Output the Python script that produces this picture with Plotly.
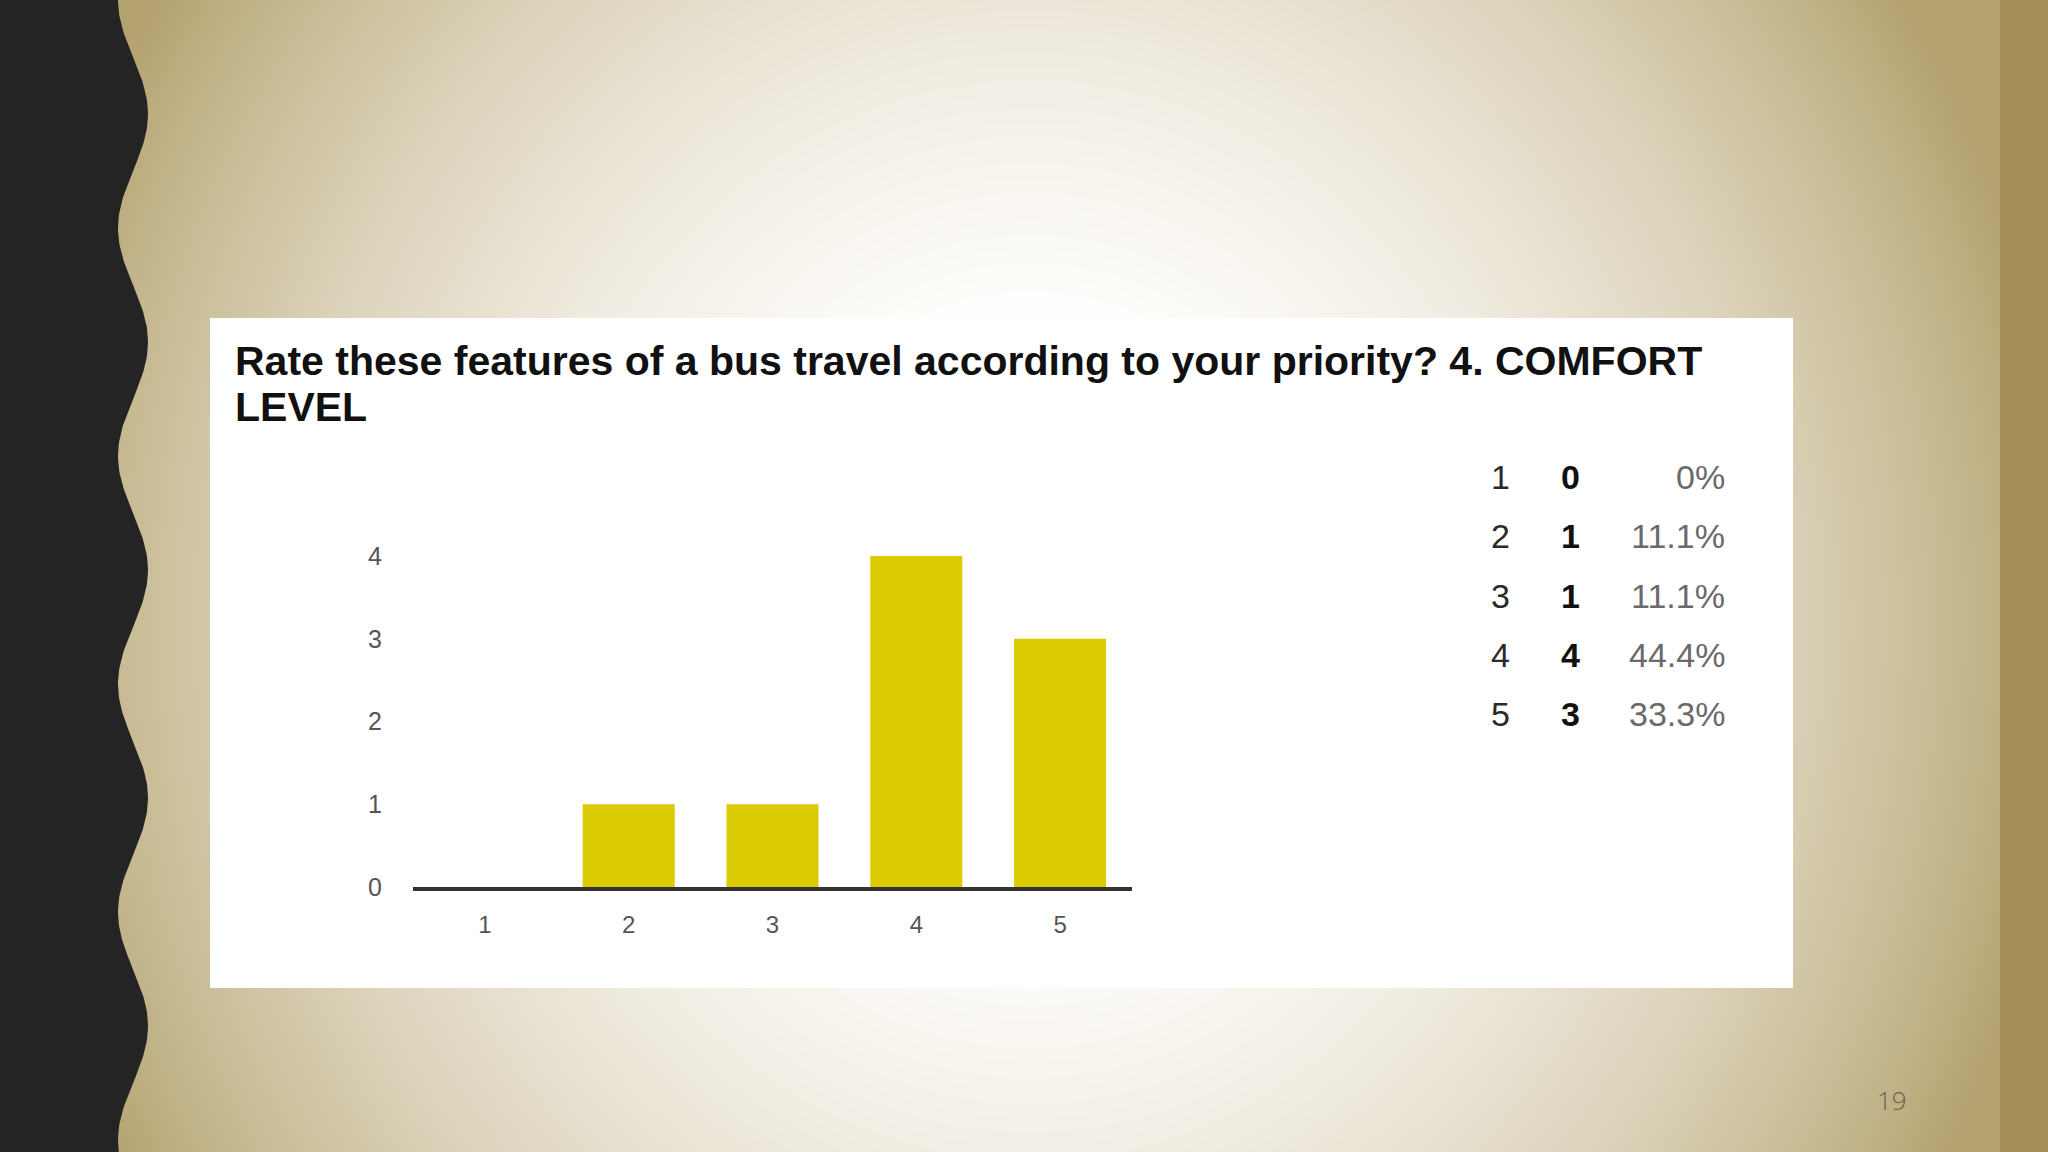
import numpy as np
import plotly.graph_objects as go

# ---- data ----
categories = [1, 2, 3, 4, 5]
counts = [0, 1, 1, 4, 3]
percent_labels = ["0%", "11.1%", "11.1%", "44.4%", "33.3%"]
y_ticks = [0, 1, 2, 3, 4]
title_line1 = "Rate these features of a bus travel according to your priority? 4. COMFORT"
title_line2 = "LEVEL"
page_number = "19"

W, H = 2048, 1152
FONT = "Arial, Liberation Sans, sans-serif"
fig = go.Figure()

# ---- slide background (decoration) ----
gx = np.linspace(0, W, 129)
gy = np.linspace(0, H, 73)
X, Y = np.meshgrid(gx, gy)
cx, cy, rx, ry = 1030, 620, 1050, 1150
t = np.clip(np.sqrt(((X - cx) / rx) ** 2 + ((Y - cy) / ry) ** 2), 0, 1)
fig.add_trace(go.Heatmap(
    x=gx, y=gy, z=t, zmin=0, zmax=1, zsmooth="best", showscale=False, hoverinfo="skip",
    colorscale=[[0, "#ffffff"], [0.28, "#fefdfb"], [0.5, "#f0ebe0"], [0.7, "#ddd4bd"],
                [0.88, "#c6b991"], [1, "#b3a16e"]],
    xaxis="x", yaxis="y"))

# dark wavy band on the left
wy = np.linspace(0, H, 400)
wx = 133 + 15 * np.cos(2 * np.pi * (wy - 114) / 228)
bx = [0] + list(wx) + [0]
by = [0] + list(wy) + [H]
fig.add_trace(go.Scatter(x=bx, y=by, fill="toself", fillcolor="#252424", mode="lines",
                         line=dict(width=0), hoverinfo="skip", showlegend=False,
                         xaxis="x", yaxis="y"))
# right band
fig.add_trace(go.Scatter(x=[2000, W, W, 2000, 2000], y=[0, 0, H, H, 0], fill="toself",
                         fillcolor="#a38e56", mode="lines", line=dict(width=0),
                         hoverinfo="skip", showlegend=False, xaxis="x", yaxis="y"))
# white panel
fig.add_trace(go.Scatter(x=[210, 1793, 1793, 210, 210], y=[318, 318, 988, 988, 318],
                         fill="toself", fillcolor="#ffffff", mode="lines", line=dict(width=0),
                         hoverinfo="skip", showlegend=False, xaxis="x", yaxis="y"))

# ---- bar chart ----
fig.add_trace(go.Bar(x=categories, y=counts, marker=dict(color="#dbcb02", line=dict(width=0)),
                     width=0.64, xaxis="x2", yaxis="y2", showlegend=False))

annotations = [
    dict(x=233, y=361, xref="x", yref="y", text=title_line1, showarrow=False,
         xanchor="left", yanchor="middle",
         font=dict(family=FONT, size=41, color="#111111", weight="bold")),
    dict(x=233, y=407, xref="x", yref="y", text=title_line2, showarrow=False,
         xanchor="left", yanchor="middle",
         font=dict(family=FONT, size=41, color="#111111", weight="bold")),
    dict(x=1892, y=1100, xref="x", yref="y", text=page_number, showarrow=False,
         font=dict(family="Open Sans, sans-serif", size=26, color="#6b6250", weight=300)),
]
row0, row_step = 477, 59.3
for i, (c, n, p) in enumerate(zip(categories, counts, percent_labels)):
    yy = row0 + i * row_step
    annotations.append(dict(x=1500, y=yy, xref="x", yref="y", text=str(c), showarrow=False,
                            xanchor="center", yanchor="middle",
                            font=dict(family=FONT, size=34, color="#2a2a2a")))
    annotations.append(dict(x=1570, y=yy, xref="x", yref="y", text=str(n), showarrow=False,
                            xanchor="center", yanchor="middle",
                            font=dict(family=FONT, size=34, color="#111111", weight="bold")))
    annotations.append(dict(x=1727, y=yy, xref="x", yref="y", text=p, showarrow=False,
                            xanchor="right", yanchor="middle",
                            font=dict(family=FONT, size=34, color="#6a6a6a")))

x0, x1 = 413 / W, 1132 / W
ybot = 887
ytop = ybot - 4.5 * 82.75
fig.update_layout(
    width=W, height=H, autosize=False,
    margin=dict(l=0, r=0, t=0, b=0, pad=0, autoexpand=False),
    paper_bgcolor="#b5a371", plot_bgcolor="rgba(0,0,0,0)",
    showlegend=False,
    xaxis=dict(domain=[0, 1], range=[0, W], visible=False, fixedrange=True),
    yaxis=dict(domain=[0, 1], range=[H, 0], visible=False, fixedrange=True),
    xaxis2=dict(domain=[x0, x1], anchor="y2", range=[0.5, 5.5], tickvals=categories,
                showline=True, linecolor="#333333", linewidth=4, showgrid=False,
                zeroline=False, ticks="", ticklabelstandoff=13, automargin=False,
                tickfont=dict(family=FONT, size=24, color="#555555")),
    yaxis2=dict(domain=[1 - ybot / H, 1 - ytop / H], anchor="x2", range=[0, 4.5],
                tickvals=y_ticks, showgrid=False, zeroline=False, showline=False,
                ticks="", ticklabelstandoff=30, automargin=False,
                tickfont=dict(family=FONT, size=25, color="#555555")),
    annotations=annotations,
)

fig.write_html(
    "out.html",
    config={"displayModeBar": False, "responsive": False},
    post_script=("document.body.style.margin='0';"
                 "document.body.style.overflow='hidden';"
                 "document.documentElement.style.overflow='hidden';"),
)
